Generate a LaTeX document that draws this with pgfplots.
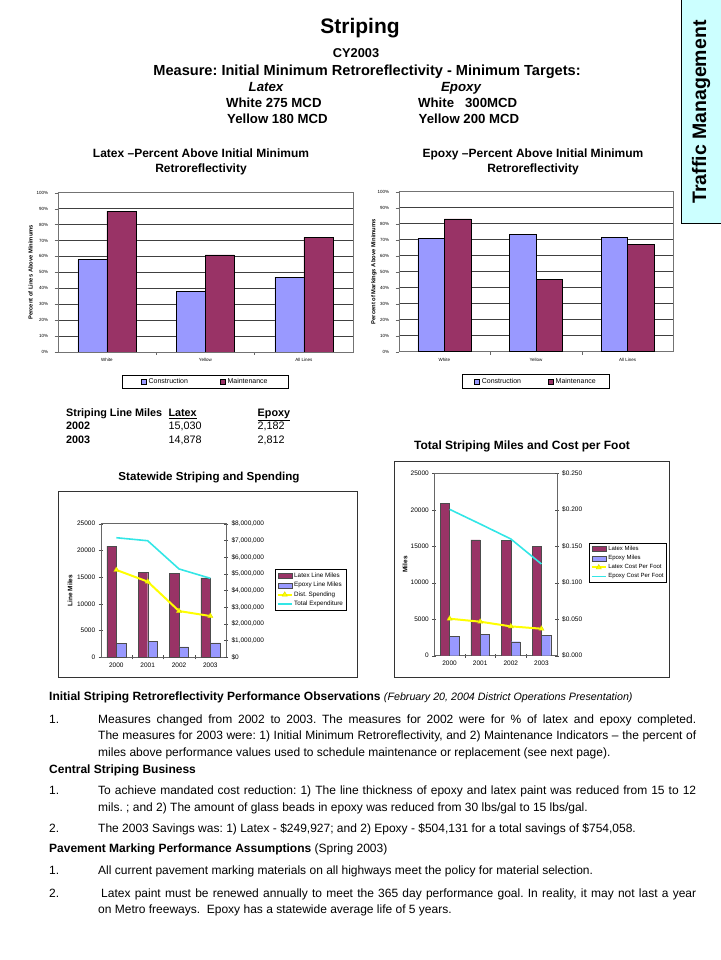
\documentclass[border=0pt]{standalone}
\usepackage{fontspec}
\setmainfont{Liberation Sans}
\usepackage{pgfplots}
\pgfplotsset{compat=1.18}
\frenchspacing

\definecolor{constr}{HTML}{9999FF}
\definecolor{maint}{HTML}{993366}
\definecolor{yel}{HTML}{FFFF00}
\definecolor{cyn}{HTML}{33E6E6}
\definecolor{tabc}{HTML}{CCFFFF}

\pgfplotsset{
  every axis/.append style={scale only axis,
    /pgf/number format/assume math mode=true,
    /pgf/number format/1000 sep={}},
  sqleg/.style={legend image code/.code={\draw[##1] (0pt,-2.6pt) rectangle (5.2pt,2.6pt);}},
  barleg/.style={legend image code/.code={\draw[##1] (0pt,-2.5pt) rectangle (14pt,2.5pt);}},
  lineleg/.style={legend image code/.code={\draw[mark repeat=2,mark phase=2,##1] plot coordinates {(0pt,0pt) (7pt,0pt) (14pt,0pt)};}},
  pctchart/.style={
    anchor=south west,
    xmin=-0.5, xmax=2.5, ymin=0, ymax=100,
    ybar=0pt,
    xtick={0.5,1.5}, xticklabel={\relax},
    extra x ticks={0,1,2}, extra x tick labels={White,Yellow,All Lines},
    extra x tick style={tick style={draw=none}},
    ytick={0,10,...,100}, yticklabel={\pgfmathprintnumber{\tick}\%},
    tick pos=left, tick align=outside, major tick length=3pt,
    ymajorgrids, major grid style={black!75, line width=0.4pt},
    axis line style={black!55}, tick style={black!60},
    ticklabel style={font=\fontsize{4.5}{5}\selectfont},
    yticklabel style={xshift=-3pt},
    ylabel style={font=\bfseries\fontsize{5.8}{6}\selectfont, anchor=center},
    legend columns=2,
    legend style={at={(0.5,-0.142)}, anchor=north, draw=black, line width=0.6pt,
      font=\fontsize{7}{8}\selectfont, inner ysep=1.5pt},
  },
  milechart/.style={
    anchor=south west,
    xmin=-0.5, xmax=3.5, ymin=0, ymax=25000,
    ybar=0pt,
    xtick={0.5,1.5,2.5}, xticklabel={\relax},
    extra x ticks={0,1,2,3}, extra x tick labels={2000,2001,2002,2003},
    extra x tick style={tick style={draw=none}},
    ytick={0,5000,...,25000}, scaled y ticks=false,
    tick pos=left, tick align=center, major tick length=4pt,
    axis line style={black!60}, tick style={black!70},
    ticklabel style={font=\fontsize{6.5}{7}\selectfont},
    ylabel style={font=\bfseries\fontsize{6.5}{7}\selectfont, anchor=center},
  },
  costaxis/.style={
    anchor=south west,
    xmin=-0.5, xmax=3.5,
    axis x line=none, axis y line*=right,
    tick align=center, major tick length=4pt,
    axis line style={black!60}, tick style={black!70},
    scaled y ticks=false,
    ticklabel style={font=\fontsize{6.5}{7}\selectfont},
    legend cell align=left,
    legend style={anchor=north west, draw=black, line width=0.5pt,
      inner sep=1.5pt, nodes={inner ysep=1.7pt, inner xsep=1.5pt}},
  },
}

\newcommand{\jline}[1]{\makebox[598pt][s]{#1}}

\begin{document}
\begin{tikzpicture}
\path[use as bounding box] (0,0) rectangle (720pt,960pt);
\begin{scope}[shift={(0,960pt)}, x=1pt, y=-1pt]
  % side tab
  \draw[fill=tabc, line width=0.8pt] (681,-2) rectangle (723,223);
  \node[rotate=90, font=\bfseries\fontsize{19.5}{20}\selectfont] at (701,112) {Traffic Management};

  % heading
  \node[anchor=base, inner sep=0, font=\bfseries\fontsize{21}{24}\selectfont] at (360,33.5) {Striping};
  \node[anchor=base, inner sep=0, font=\bfseries\fontsize{12.8}{14}\selectfont] at (356,57.3) {CY2003};
  \node[anchor=base, inner sep=0, font=\bfseries\fontsize{14.6}{16}\selectfont] at (367,76) {Measure: Initial Minimum Retroreflectivity - Minimum Targets:};
  \node[anchor=base, inner sep=0, font=\bfseries\itshape\fontsize{13.3}{15}\selectfont] at (266,91.7) {Latex};
  \node[anchor=base, inner sep=0, font=\bfseries\itshape\fontsize{13.3}{15}\selectfont] at (461,91.7) {Epoxy};
  \node[anchor=base west, inner sep=0, font=\bfseries\fontsize{13.2}{15}\selectfont] at (226,107.3) {White 275 MCD};
  \node[anchor=base west, inner sep=0, font=\bfseries\fontsize{13.2}{15}\selectfont] at (418,107.3) {White\ \ \ 300MCD};
  \node[anchor=base west, inner sep=0, font=\bfseries\fontsize{13.2}{15}\selectfont] at (227,123.3) {Yellow 180 MCD};
  \node[anchor=base west, inner sep=0, font=\bfseries\fontsize{13.2}{15}\selectfont] at (418.5,123.3) {Yellow 200 MCD};

  \node[anchor=base, inner sep=0, font=\bfseries\fontsize{12}{14}\selectfont] at (201,158) {Latex –Percent Above Initial Minimum};
  \node[anchor=base, inner sep=0, font=\bfseries\fontsize{12}{14}\selectfont] at (201,172.5) {Retroreflectivity};
  \node[anchor=base, inner sep=0, font=\bfseries\fontsize{12}{14}\selectfont] at (533,158) {Epoxy –Percent Above Initial Minimum};
  \node[anchor=base, inner sep=0, font=\bfseries\fontsize{12}{14}\selectfont] at (533,172.5) {Retroreflectivity};

  % line miles table
  \begin{scope}[every node/.style={anchor=base west, inner sep=0, font=\fontsize{10.8}{12}\selectfont}]
    \node[font=\bfseries\fontsize{10.8}{12}\selectfont] at (66,416.5) {Striping Line Miles};
    \node[font=\bfseries\fontsize{10.8}{12}\selectfont] at (168.3,416.5) {\underline{Latex}};
    \node[font=\bfseries\fontsize{10.8}{12}\selectfont] at (257.5,416.5) {\underline{Epoxy}};
    \node[font=\bfseries\fontsize{10.8}{12}\selectfont] at (66,430) {2002};
    \node at (168.3,430) {15,030};
    \node at (257.5,430) {2,182};
    \node[font=\bfseries\fontsize{10.8}{12}\selectfont] at (66,444) {2003};
    \node at (168.3,444) {14,878};
    \node at (257.5,444) {2,812};
  \end{scope}

  % lower chart titles and frames
  \node[anchor=base, inner sep=0, font=\bfseries\fontsize{11.6}{13}\selectfont] at (209,481) {Statewide Striping and Spending};
  \node[anchor=base, inner sep=0, font=\bfseries\fontsize{12}{13}\selectfont] at (522,449.5) {Total Striping Miles and Cost per Foot};
  \draw[black!80, line width=0.8pt] (58,491) rectangle (357,677);
  \draw[black!80, line width=0.8pt] (394,461) rectangle (669,677);

  % body text
  \begin{scope}[every node/.style={anchor=base west, inner sep=0, font=\fontsize{12}{14}\selectfont}]
    \node at (49,701) {\textbf{Initial Striping Retroreflectivity Performance Observations} {\itshape\fontsize{10.7}{12}\selectfont (February 20, 2004 District Operations Presentation)}};
    \node at (49,723.5) {1.};
    \node at (98,723.5) {\jline{Measures changed from 2002 to 2003. The measures for 2002 were for \% of latex and epoxy completed.}};
    \node at (98,740) {\jline{The measures for 2003 were: 1) Initial Minimum Retroreflectivity, and 2) Maintenance Indicators – the percent of}};
    \node at (98,756.5) {miles above performance values used to schedule maintenance or replacement (see next page).};
    \node at (49,774) {\textbf{Central Striping Business}};
    \node at (49,795) {1.};
    \node at (98,795) {\jline{To achieve mandated cost reduction: 1) The line thickness of epoxy and latex paint was reduced from 15 to 12}};
    \node at (98,811.5) {mils. ; and 2) The amount of glass beads in epoxy was reduced from 30 lbs/gal to 15 lbs/gal.};
    \node at (49,833) {2.};
    \node at (98,833) {The 2003 Savings was: 1) Latex - \$249,927; and 2) Epoxy - \$504,131 for a total savings of \$754,058.};
    \node at (49,853) {\textbf{Pavement Marking Performance Assumptions} (Spring 2003)};
    \node at (49,875) {1.};
    \node at (98,875) {All current pavement marking materials on all highways meet the policy for material selection.};
    \node at (49,897.5) {2.};
    \node at (101,897.5) {\makebox[595pt][s]{Latex paint must be renewed annually to meet the 365 day performance goal. In reality, it may not last a year}};
    \node at (98,914) {on Metro freeways.\ \ Epoxy has a statewide average life of 5 years.};
  \end{scope}
\end{scope}

% ---- Latex percent chart
\begin{axis}[pctchart, at={(57.7pt,608pt)}, width=295.3pt, height=159.3pt,
  bar width=29pt,
  ylabel={Percent of Lines Above Minimums},
  ylabel style={at={(axis description cs:-0.092,0.5)}},
  legend style={inner xsep=19pt, /tikz/every even column/.append style={column sep=30pt}}]
\addplot[sqleg, fill=constr, draw=black, line width=0.4pt] coordinates {(0,58) (1,38) (2,47)};
\addplot[sqleg, fill=maint, draw=black, line width=0.4pt] coordinates {(0,88.5) (1,61) (2,72)};
\legend{Construction,Maintenance}
\end{axis}

% ---- Epoxy percent chart
\begin{axis}[pctchart, at={(398.7pt,608.3pt)}, width=274.6pt, height=160pt,
  bar width=26.5pt,
  ylabel={Percent of Markings Above Minimums},
  ylabel style={at={(axis description cs:-0.09,0.5)}},
  legend style={inner xsep=12pt, /tikz/every even column/.append style={column sep=25pt}}]
\addplot[sqleg, fill=constr, draw=black, line width=0.4pt] coordinates {(0,70.8) (1,73.3) (2,71.5)};
\addplot[sqleg, fill=maint, draw=black, line width=0.4pt] coordinates {(0,83) (1,45.2) (2,67)};
\legend{Construction,Maintenance}
\end{axis}

% ---- Statewide striping and spending
\begin{axis}[milechart, at={(100.7pt,302.7pt)}, width=125.3pt, height=133.6pt,
  bar width=9.5pt, ylabel={Line Miles},
  ylabel style={at={(axis description cs:-0.245,0.5)}}]
\addplot[fill=maint, draw=black!70, line width=0.3pt] coordinates {(0,20800) (1,15900) (2,15750) (3,14850)};
\addplot[fill=constr, draw=black!70, line width=0.3pt] coordinates {(0,2650) (1,2980) (2,1930) (3,2680)};
\end{axis}
\begin{axis}[costaxis, at={(100.7pt,302.7pt)}, width=125.3pt, height=133.6pt,
  ymin=0, ymax=8000000,
  ytick={0,1000000,2000000,3000000,4000000,5000000,6000000,7000000,8000000},
  yticklabels={\$0,{\$1,000,000},{\$2,000,000},{\$3,000,000},{\$4,000,000},{\$5,000,000},{\$6,000,000},{\$7,000,000},{\$8,000,000}},
  legend style={at={(axis description cs:1.391,0.659)}, font=\fontsize{6.3}{7}\selectfont}]
\addlegendimage{barleg, fill=maint, draw=black!70, line width=0.3pt}
\addlegendentry{Latex Line Miles}
\addlegendimage{barleg, fill=constr, draw=black!70, line width=0.3pt}
\addlegendentry{Epoxy Line Miles}
\addplot[lineleg, yel, line width=2pt, mark=triangle*, mark size=3pt, mark options={fill=yel, draw=yel!85!black, line width=0.4pt}] coordinates {(0,5230000) (1,4530000) (2,2770000) (3,2470000)};
\addlegendentry{Dist. Spending}
\addplot[lineleg, cyn, line width=1.6pt] coordinates {(0,7160000) (1,6980000) (2,5290000) (3,4730000)};
\addlegendentry{Total Expenditure}
\end{axis}

% ---- Total striping miles and cost per foot
\begin{axis}[milechart, at={(434.3pt,304.3pt)}, width=122.4pt, height=182.4pt,
  bar width=9.3pt, ylabel={Miles},
  ylabel style={at={(axis description cs:-0.239,0.5)}}]
\addplot[fill=maint, draw=black!70, line width=0.3pt] coordinates {(0,20890) (1,15860) (2,15810) (3,14990)};
\addplot[fill=constr, draw=black!70, line width=0.3pt] coordinates {(0,2650) (1,2970) (2,1920) (3,2790)};
\end{axis}
\begin{axis}[costaxis, at={(434.3pt,304.3pt)}, width=122.4pt, height=182.4pt,
  ymin=0, ymax=0.25,
  ytick={0,0.05,0.1,0.15,0.2,0.25},
  yticklabels={\$0.000,\$0.050,\$0.100,\$0.150,\$0.200,\$0.250},
  legend style={at={(axis description cs:1.264,0.6195)}, font=\fontsize{6}{7}\selectfont}]
\addlegendimage{barleg, fill=maint, draw=black!70, line width=0.3pt}
\addlegendentry{Latex Miles}
\addlegendimage{barleg, fill=constr, draw=black!70, line width=0.3pt}
\addlegendentry{Epoxy Miles}
\addplot[lineleg, yel, line width=2pt, mark=triangle*, mark size=3pt, mark options={fill=yel, draw=yel!85!black, line width=0.4pt}] coordinates {(0,0.0507) (1,0.0466) (2,0.0402) (3,0.037)};
\addlegendentry{Latex Cost Per Foot}
\addplot[lineleg, cyn, line width=1.6pt] coordinates {(0,0.2006) (1,0.1805) (2,0.160) (3,0.1257)};
\addlegendentry{Epoxy Cost Per Foot}
\end{axis}
\end{tikzpicture}
\end{document}
